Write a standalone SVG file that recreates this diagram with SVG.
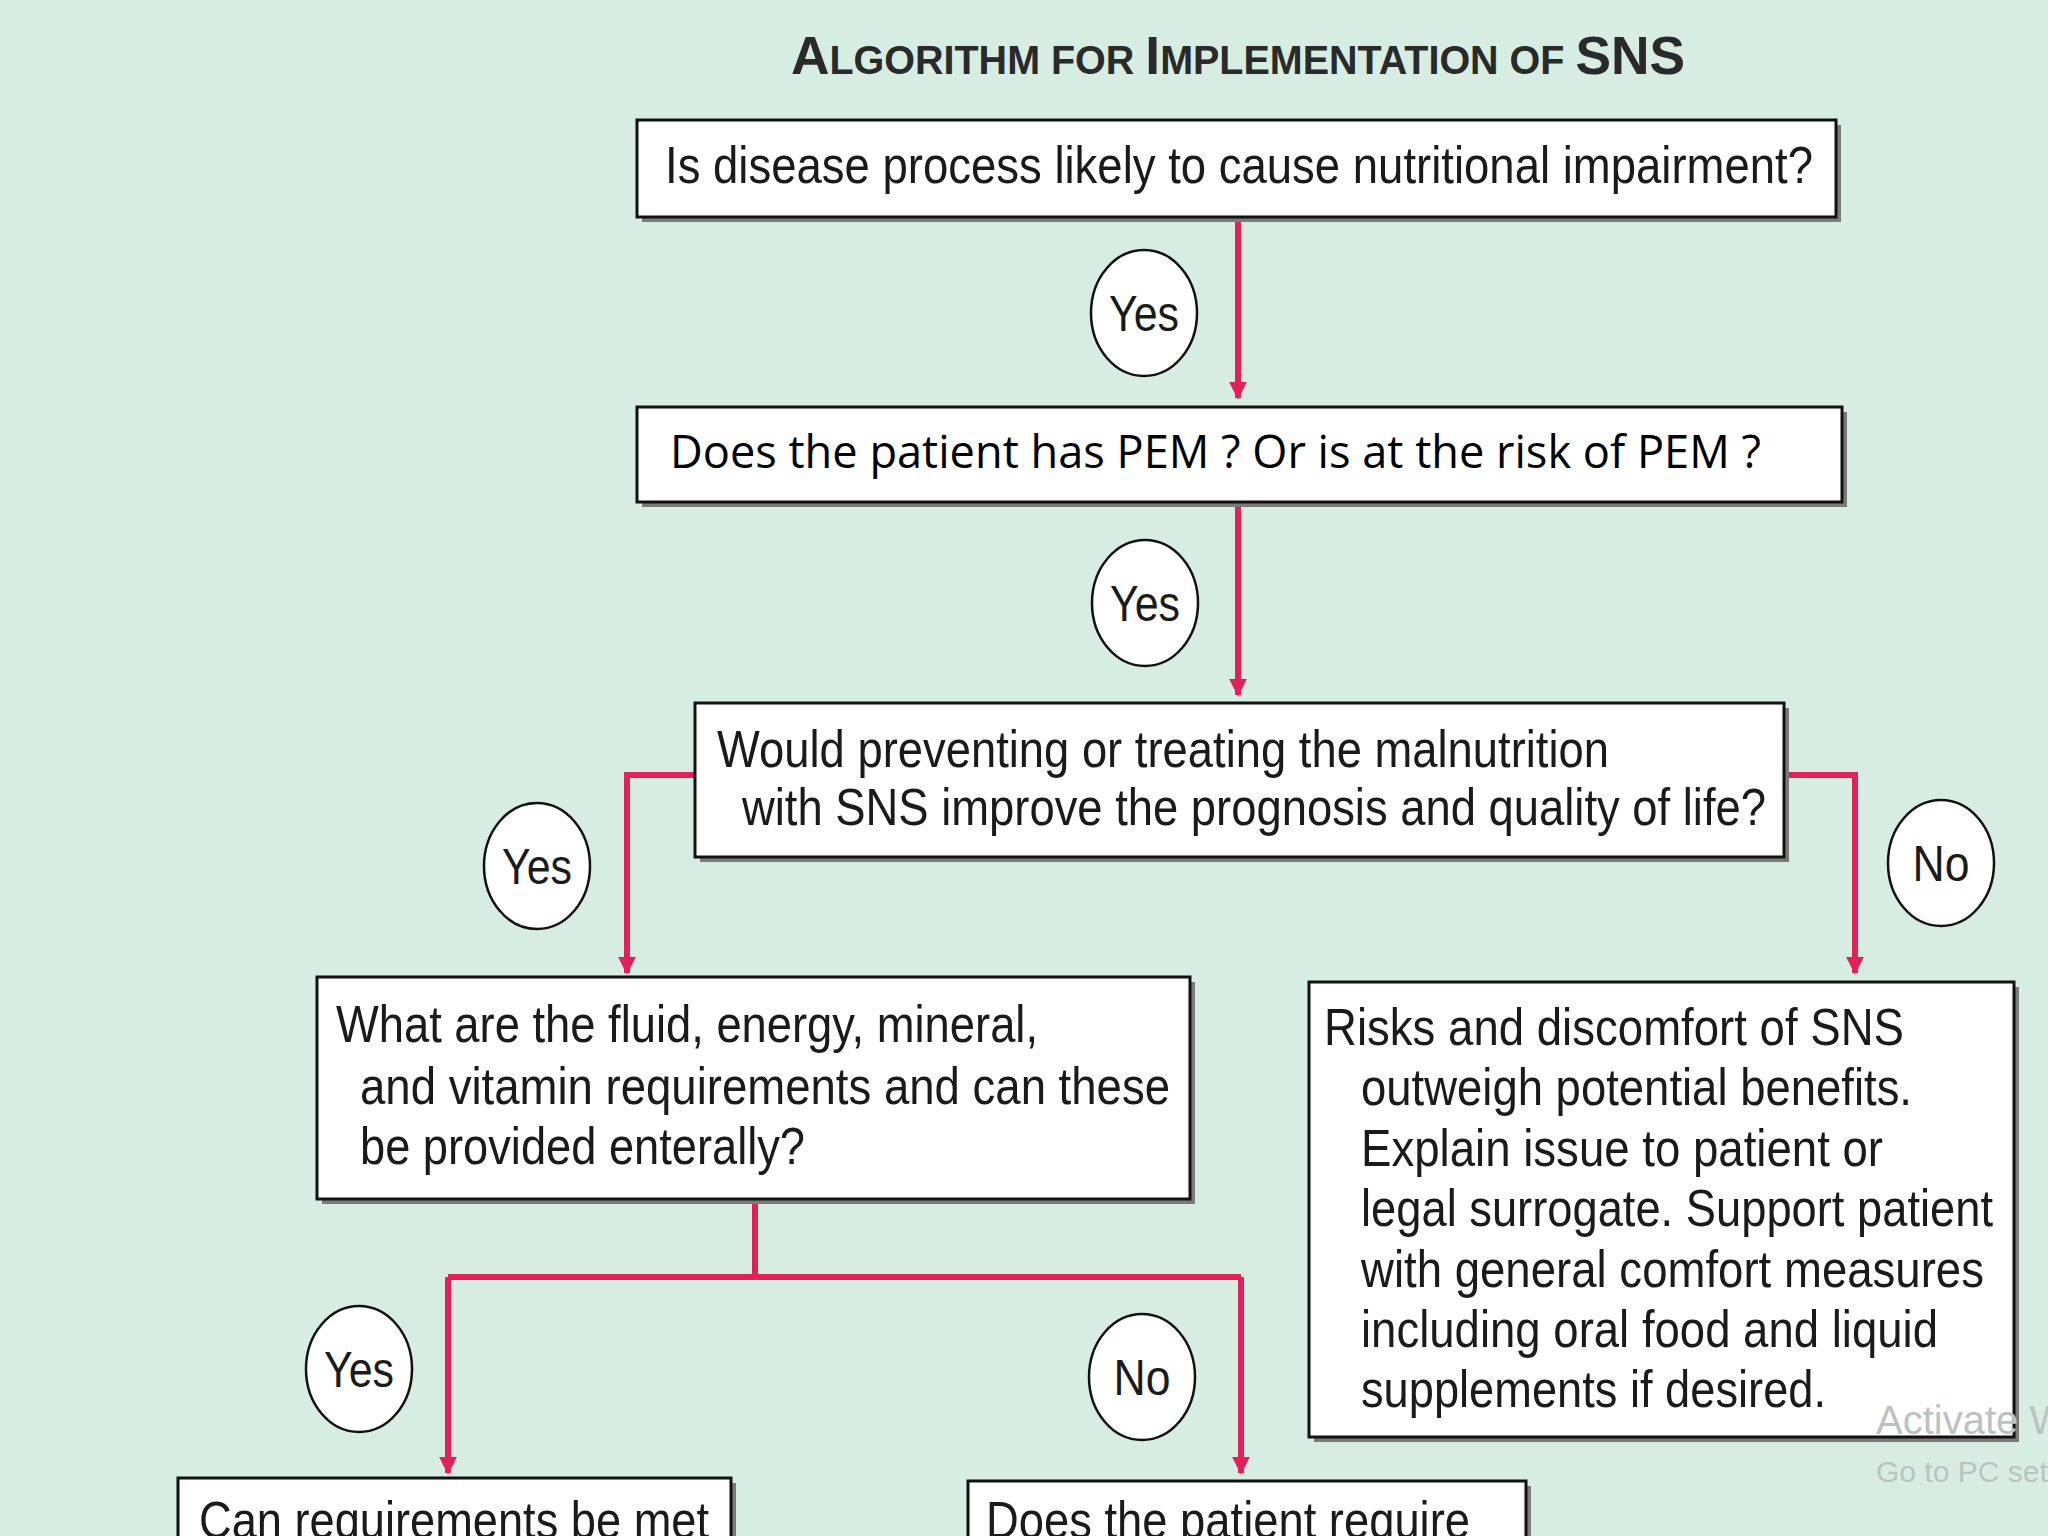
<svg xmlns="http://www.w3.org/2000/svg" width="2048" height="1536" viewBox="0 0 2048 1536">
<style>
.bx{fill:#fff;stroke:#111;stroke-width:3}
.sh{fill:#7a7a7a}
.t{font-family:"Liberation Sans Narrow","Liberation Sans",Arial,sans-serif;font-size:52px;fill:#1a1a1a}
.c{fill:#fff;stroke:#111;stroke-width:2.5}
.ct{font-family:"Liberation Sans Narrow","Liberation Sans",Arial,sans-serif;font-size:50px;fill:#1a1a1a;text-anchor:middle}
.ln{fill:none;stroke:#e2205a;stroke-width:6}
</style>
<defs>
<marker id="ah" viewBox="0 0 10 10" refX="9" refY="5" markerWidth="3" markerHeight="4" orient="auto" markerUnits="strokeWidth">
<path d="M0,0 L10,5 L0,10 z" fill="#e2205a"/>
</marker>
</defs>
<rect width="2048" height="1536" fill="#d8ede2"/>
<text x="791" y="74" font-family="Liberation Sans Narrow,Liberation Sans,Arial,sans-serif" font-weight="bold" fill="#2a2a2a" textLength="894" lengthAdjust="spacingAndGlyphs"><tspan font-size="54">A</tspan><tspan font-size="40">LGORITHM FOR </tspan><tspan font-size="54">I</tspan><tspan font-size="40">MPLEMENTATION OF </tspan><tspan font-size="54">SNS</tspan></text>

<g id="connectors">
<path class="ln" d="M1238,217 V398" marker-end="url(#ah)"/>
<path class="ln" d="M1238,502 V695" marker-end="url(#ah)"/>
<path class="ln" d="M695,775 H627 V973" marker-end="url(#ah)"/>
<path class="ln" d="M1784,775 H1855 V973" marker-end="url(#ah)"/>
<path class="ln" d="M755,1199 V1277"/>
<path class="ln" d="M448,1277 H1241"/>
<path class="ln" d="M448,1277 V1473" marker-end="url(#ah)"/>
<path class="ln" d="M1241,1277 V1473" marker-end="url(#ah)"/>
</g>

<g id="n1"><rect class="sh" x="642" y="125" width="1199" height="97"/><rect class="bx" x="637" y="120" width="1199" height="97"/>
<text class="t" x="665" y="183" textLength="1148" lengthAdjust="spacingAndGlyphs">Is disease process likely to cause nutritional impairment?</text></g>
<g id="y1"><ellipse class="c" cx="1144" cy="313" rx="53" ry="63"/><text class="ct" x="1144" y="331" textLength="70" lengthAdjust="spacingAndGlyphs">Yes</text></g>

<g id="n2"><rect class="sh" x="642" y="412" width="1205" height="95"/><rect class="bx" x="637" y="407" width="1205" height="95"/>
<text x="670" y="468" font-family="Open Sans,Liberation Sans,sans-serif" font-size="45" fill="#000" textLength="1091" lengthAdjust="spacingAndGlyphs">Does the patient has PEM ? Or is at the risk of PEM ?</text></g>
<g id="y2"><ellipse class="c" cx="1145" cy="603" rx="53" ry="63"/><text class="ct" x="1145" y="621" textLength="70" lengthAdjust="spacingAndGlyphs">Yes</text></g>

<g id="n3"><rect class="sh" x="700" y="708" width="1089" height="154"/><rect class="bx" x="695" y="703" width="1089" height="154"/>
<text class="t" x="717" y="767" textLength="892" lengthAdjust="spacingAndGlyphs">Would preventing or treating the malnutrition</text>
<text class="t" x="742" y="825" textLength="1024" lengthAdjust="spacingAndGlyphs">with SNS improve the prognosis and quality of life?</text></g>
<g id="y3"><ellipse class="c" cx="537" cy="866" rx="53" ry="63"/><text class="ct" x="537" y="884" textLength="70" lengthAdjust="spacingAndGlyphs">Yes</text></g>
<g id="no1"><ellipse class="c" cx="1941" cy="863" rx="53" ry="63"/><text class="ct" x="1941" y="881" textLength="57" lengthAdjust="spacingAndGlyphs">No</text></g>

<g id="n4"><rect class="sh" x="322" y="982" width="873" height="222"/><rect class="bx" x="317" y="977" width="873" height="222"/>
<text class="t" x="336" y="1042" textLength="702" lengthAdjust="spacingAndGlyphs">What are the fluid, energy, mineral,</text>
<text class="t" x="360" y="1104" textLength="810" lengthAdjust="spacingAndGlyphs">and vitamin requirements and can these</text>
<text class="t" x="360" y="1164" textLength="445" lengthAdjust="spacingAndGlyphs">be provided enterally?</text></g>

<g id="n5"><rect class="sh" x="1314" y="987" width="705" height="455"/><rect class="bx" x="1309" y="982" width="705" height="455"/>
<text class="t" x="1324" y="1045" textLength="580" lengthAdjust="spacingAndGlyphs">Risks and discomfort of SNS</text>
<text class="t" x="1361" y="1105" textLength="551" lengthAdjust="spacingAndGlyphs">outweigh potential benefits.</text>
<text class="t" x="1361" y="1166" textLength="522" lengthAdjust="spacingAndGlyphs">Explain issue to patient or</text>
<text class="t" x="1361" y="1226" textLength="632" lengthAdjust="spacingAndGlyphs">legal surrogate. Support patient</text>
<text class="t" x="1361" y="1287" textLength="623" lengthAdjust="spacingAndGlyphs">with general comfort measures</text>
<text class="t" x="1361" y="1347" textLength="577" lengthAdjust="spacingAndGlyphs">including oral food and liquid</text>
<text class="t" x="1361" y="1407" textLength="465" lengthAdjust="spacingAndGlyphs">supplements if desired.</text></g>

<g id="y4"><ellipse class="c" cx="359" cy="1369" rx="53" ry="63"/><text class="ct" x="359" y="1387" textLength="70" lengthAdjust="spacingAndGlyphs">Yes</text></g>
<g id="no2"><ellipse class="c" cx="1142" cy="1377" rx="53" ry="63"/><text class="ct" x="1142" y="1395" textLength="57" lengthAdjust="spacingAndGlyphs">No</text></g>

<g id="n6"><rect class="sh" x="183" y="1483" width="553" height="80"/><rect class="bx" x="178" y="1478" width="553" height="80"/>
<text class="t" x="199" y="1538" textLength="510" lengthAdjust="spacingAndGlyphs">Can requirements be met</text></g>
<g id="n7"><rect class="sh" x="973" y="1486" width="558" height="80"/><rect class="bx" x="968" y="1481" width="558" height="80"/>
<text class="t" x="986" y="1538" textLength="484" lengthAdjust="spacingAndGlyphs">Does the patient require</text></g>

<text x="1876" y="1434" font-family="Liberation Sans Narrow,Liberation Sans,sans-serif" font-size="40" fill="#b9c4be">Activate Windows</text>
<text x="1876" y="1482" font-family="Liberation Sans Narrow,Liberation Sans,sans-serif" font-size="30" fill="#b9c4be">Go to PC settings</text>
</svg>
